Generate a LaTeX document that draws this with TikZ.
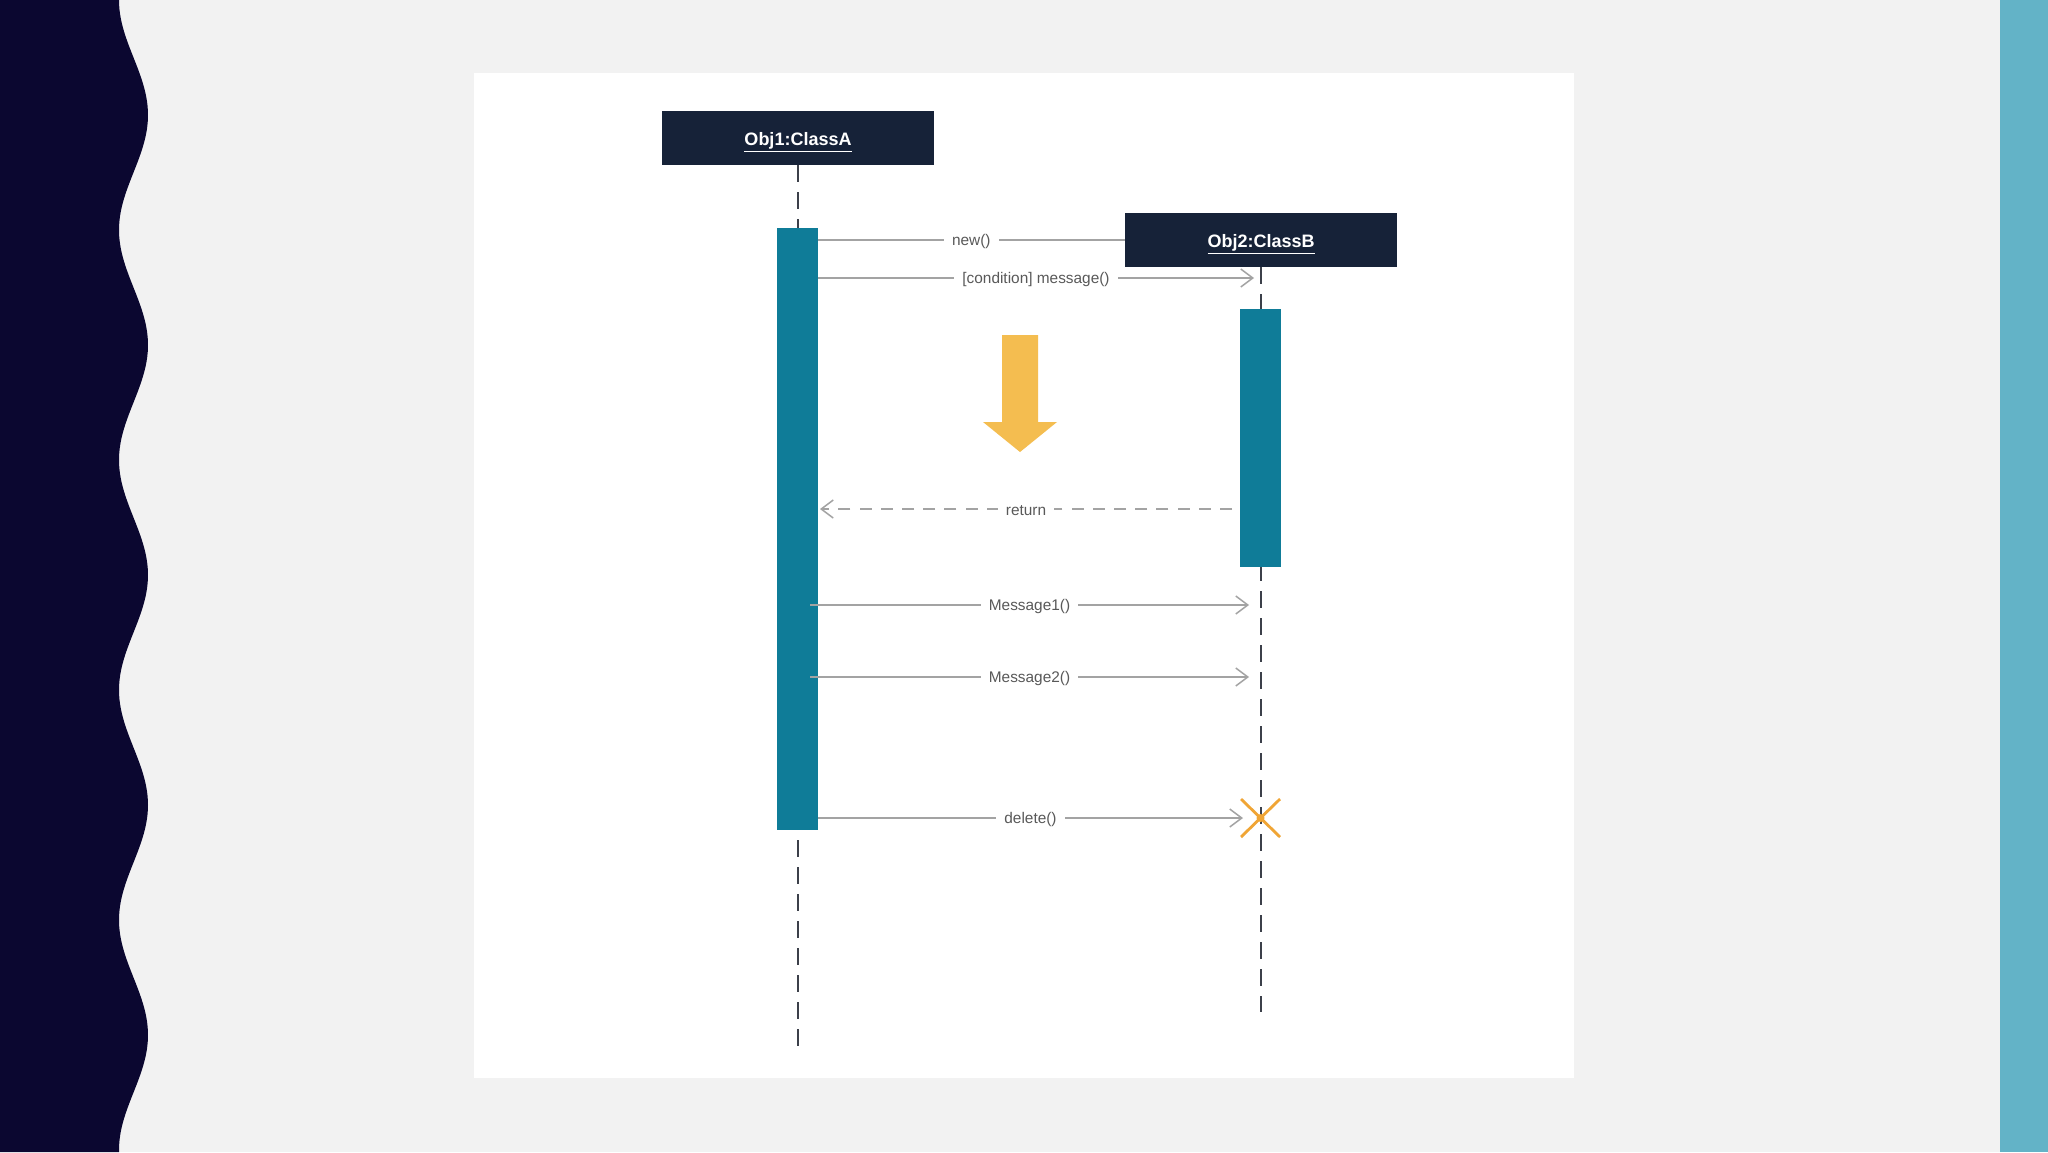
\documentclass[tikz,border=0pt]{standalone}
\usepackage{fontspec}
\setmainfont{Liberation Sans}
\usetikzlibrary{arrows.meta}
\definecolor{bgc}{HTML}{F2F2F2}
\definecolor{bandL}{HTML}{0B0730}
\definecolor{bandR}{HTML}{63B3C7}
\definecolor{objc}{HTML}{162238}
\definecolor{actc}{HTML}{0F7C98}
\definecolor{msgc}{HTML}{A3A3A3}
\definecolor{txtc}{HTML}{595959}
\definecolor{lifec}{HTML}{3C404A}
\definecolor{yel}{HTML}{F4BD50}
\definecolor{xorange}{HTML}{F0A535}
\tikzset{
  objbox/.style={fill=objc, text=white, font=\fontsize{9}{10}\selectfont\bfseries, minimum width=136pt, minimum height=27pt, inner sep=0pt},
  objtext/.style={text=white, font=\fontsize{9}{10}\selectfont\bfseries, inner sep=0pt},
  actbox/.style={fill=actc, minimum width=20.5pt, inner sep=0pt},
  lifeline/.style={draw=lifec, line width=1.4pt, dash pattern=on 8.5pt off 5pt},
  msg/.style={draw=msgc, line width=0.75pt, -{Straight Barb[length=6pt,width=9pt,line width=0.75pt]}},
  msgplain/.style={draw=msgc, line width=0.75pt},
  retmsg/.style={draw=msgc, line width=0.75pt, dash pattern=on 6pt off 4.6pt, -{Straight Barb[length=6pt,width=9pt,line width=0.75pt]}},
  mlabel/.style={fill=white, text=txtc, font=\fontsize{7.7}{9}\selectfont, inner xsep=4pt, inner ysep=1pt, yshift=-0.8pt},
}
\begin{document}
\begin{tikzpicture}[x=0.5pt,y=-0.5pt]
\useasboundingbox (0,0) rectangle (2048,1152);
\fill[bgc] (0,0) rectangle (2048,1152);
% left wavy band
\fill[bandL] (0,0) -- plot[domain=0:1152, samples=240, variable=\t] ({133.5+14.5*cos(1.5652*(\t-115))}, \t) -- (0,1152) -- cycle;
% right band
\fill[bandR] (2000,0) rectangle (2048,1152);
% white panel
\fill[white] (474,73) rectangle (1574,1078);

% objects
\node[objbox] (o1) at (798,138) {};
\node[objtext] at ([yshift=-2.3pt]o1.center) {\underline{Obj1:ClassA}};
\node[objbox] (o2) at (1261,240) {};
\node[objtext] at ([yshift=-2.3pt]o2.center) {\underline{Obj2:ClassB}};

% lifelines
\coordinate (l1end) at (797.5,1053);
\coordinate (l2end) at (1260.5,1012);
\draw[lifeline] (o1.south) -- (o1.south |- l1end);
\draw[lifeline] (o2.south) -- (o2.south |- l2end);

% activations
\node[actbox, minimum height=301pt] (a1) at (797.5,529) {};
\node[actbox, minimum height=129pt] (a2) at (1260.5,438) {};

% messages
\coordinate (n1) at (818,240);
\draw[msgplain] (n1) -- (o2.west) node[midway, mlabel] {new()};

\coordinate (c1) at (818,278);
\coordinate (c2) at (1254,278);
\draw[msg] (c1) -- (c2) node[midway, mlabel] {[condition] message()};

\coordinate (r1) at (1232,509);
\coordinate (r2) at (820,509);
\draw[retmsg] (r1) -- (r2) node[midway, mlabel] {return};

\coordinate (m1a) at (810,605);
\coordinate (m1b) at (1249,605);
\draw[msg] (m1a) -- (m1b) node[midway, mlabel] {Message1()};

\coordinate (m2a) at (810,677);
\coordinate (m2b) at (1249,677);
\draw[msg] (m2a) -- (m2b) node[midway, mlabel] {Message2()};

\coordinate (d1) at (818,818);
\coordinate (d2) at (1243,818);
\coordinate (xc) at (1260.5,818);
\draw[msg] (d1) -- (d2) node[midway, mlabel] {delete()};

% destruction X
\draw[xorange, line width=1.4pt] (1241,799) -- (1280,837) (1280,799) -- (1241,837);
\fill[xorange] (xc) circle (2pt);

% yellow arrow
\fill[yel] (1002,335) -- (1038,335) -- (1038,422) -- (1057,422) -- (1020,452) -- (983,422) -- (1002,422) -- cycle;
\end{tikzpicture}
\end{document}
